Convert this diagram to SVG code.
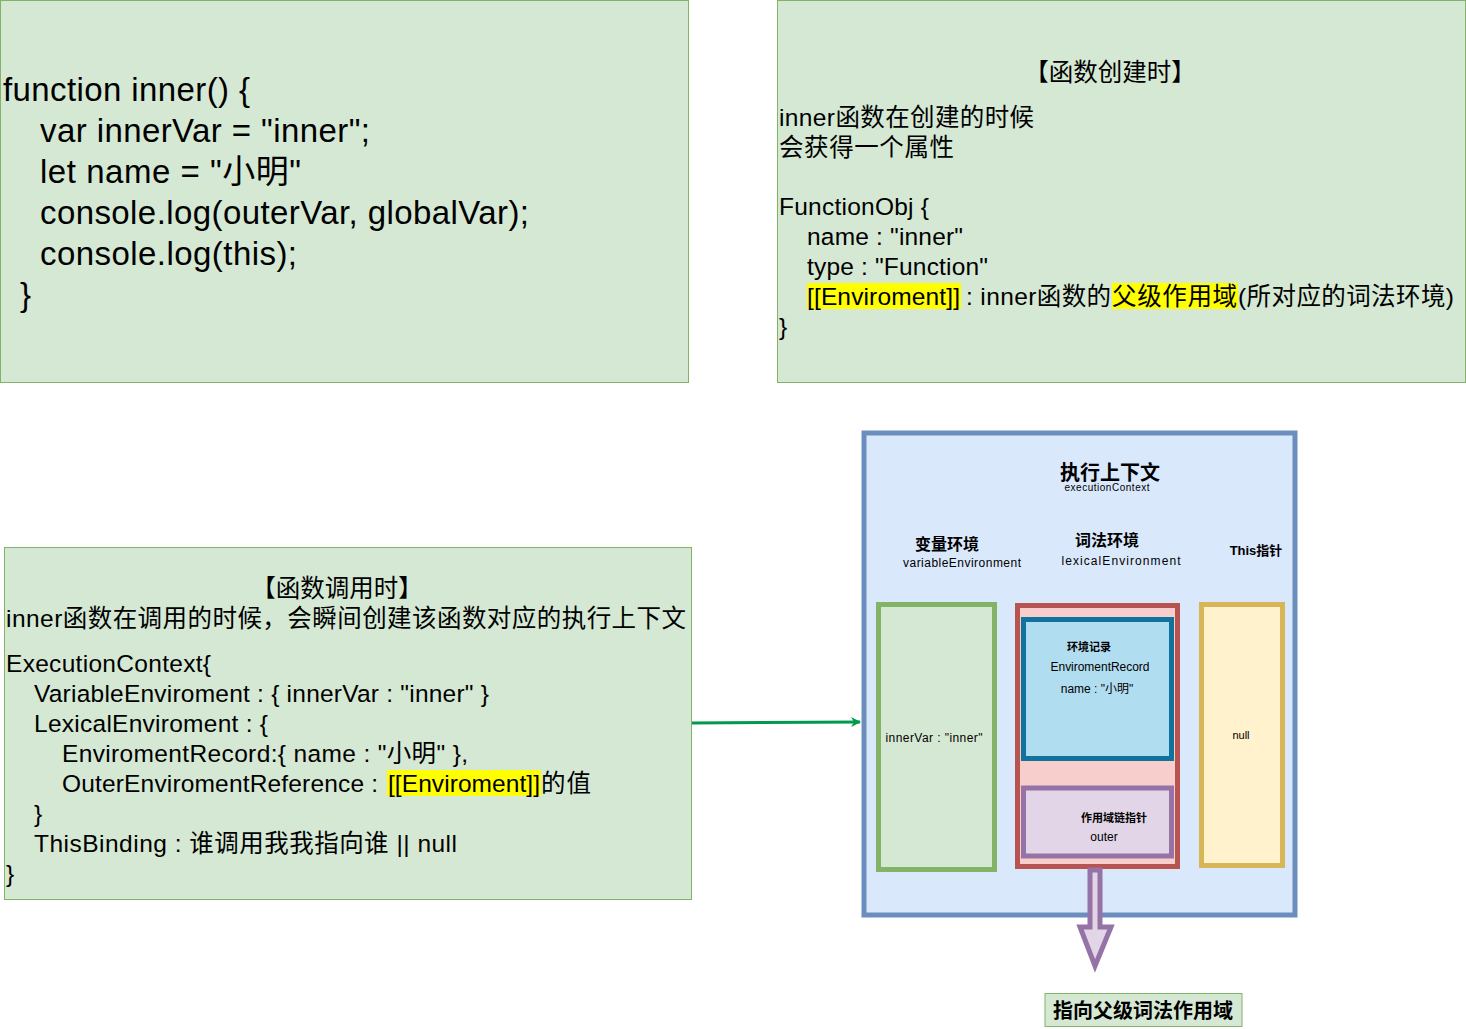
<svg xmlns="http://www.w3.org/2000/svg" width="1466" height="1029" viewBox="0 0 1466 1029">
<style>
text{font-family:"Liberation Sans","Noto Sans CJK SC",sans-serif;fill:#000}
.note{fill:#d5e8d4;stroke:#82b366;stroke-width:1}
.b{font-weight:bold}
.hl{fill:#ffff00}
</style>
<defs>
<marker id="ga" markerWidth="10" markerHeight="10" refX="9" refY="5" orient="auto" markerUnits="userSpaceOnUse" viewBox="0 0 10 10"><path d="M0,0 L10,5 L0,10 L3,5 Z" fill="#00994d"/></marker>
</defs>
<rect width="1466" height="1029" fill="#fff"/>
<g id="code">
<rect class="note" x="0.5" y="0.5" width="688" height="382"/>
<g font-size="33">
<text x="3" y="101" textLength="247">function inner() {</text>
<text x="40" y="142" textLength="330">var innerVar = "inner";</text>
<text x="40" y="183" textLength="261">let name = "小明"</text>
<text x="40" y="224" textLength="489">console.log(outerVar, globalVar);</text>
<text x="40" y="265" textLength="257">console.log(this);</text>
<text x="20" y="306">}</text>
</g>
</g>
<g id="create">
<rect class="note" x="777.5" y="0.5" width="688" height="382"/>
<g font-size="24.5">
<text x="1110" y="81" text-anchor="middle">【函数创建时】</text>
<text x="779" y="126" textLength="255">inner函数在创建的时候</text>
<text x="779" y="156" textLength="175">会获得一个属性</text>
<text x="779" y="215" textLength="150">FunctionObj {</text>
<text x="807" y="245" textLength="156">name : "inner"</text>
<text x="807" y="275" textLength="181">type : "Function"</text>
<rect class="hl" x="807" y="283" width="154" height="26"/>
<rect class="hl" x="1112" y="283" width="126" height="26"/>
<text y="305"><tspan x="807" textLength="153">[[Enviroment]]</tspan><tspan x="966" textLength="145">: inner函数的</tspan><tspan x="1112" textLength="125">父级作用域</tspan><tspan x="1238" textLength="216">(所对应的词法环境)</tspan></text>
<text x="779" y="335">}</text>
</g>
</g>
<g id="call">
<rect class="note" x="4.5" y="547.5" width="687" height="352"/>
<g font-size="24.5">
<text x="337" y="597" text-anchor="middle">【函数调用时】</text>
<text x="6" y="627" textLength="680">inner函数在调用的时候，会瞬间创建该函数对应的执行上下文</text>
<text x="6" y="672" textLength="205">ExecutionContext{</text>
<text x="34" y="702" textLength="455">VariableEnviroment : { innerVar : "inner" }</text>
<text x="34" y="732" textLength="234">LexicalEnviroment : {</text>
<text x="62" y="762" textLength="406">EnviromentRecord:{ name : "小明" },</text>
<rect class="hl" x="387" y="770" width="154" height="26"/>
<text y="792"><tspan x="62" textLength="316">OuterEnviromentReference :</tspan><tspan x="388" textLength="152">[[Enviroment]]</tspan><tspan x="541" textLength="50">的值</tspan></text>
<text x="34" y="822">}</text>
<text x="34" y="852" textLength="423">ThisBinding : 谁调用我我指向谁 ||  null</text>
<text x="6" y="882">}</text>
</g>
</g>
<g id="ec">
<rect x="864" y="433" width="431" height="482" fill="#dae8fc" stroke="#6c8ebf" stroke-width="5"/>
<text x="1110" y="480" text-anchor="middle" font-size="20" class="b">执行上下文</text>
<text x="1107" y="491" text-anchor="middle" font-size="10" textLength="85">executionContext</text>
<text x="947" y="550" text-anchor="middle" font-size="16" class="b">变量环境</text>
<text x="962" y="567" text-anchor="middle" font-size="12" textLength="118">variableEnvironment</text>
<text x="1107" y="546" text-anchor="middle" font-size="16" class="b">词法环境</text>
<text x="1121" y="565" text-anchor="middle" font-size="12" textLength="119">lexicalEnvironment</text>
<text x="1256" y="555" text-anchor="middle" font-size="13" class="b">This指针</text>
</g>
<g id="varenv">
<rect x="878.5" y="604.5" width="116" height="265" fill="#d5e8d4" stroke="#82b366" stroke-width="5"/>
<text x="934" y="742" text-anchor="middle" font-size="12" textLength="97">innerVar : "inner"</text>
</g>
<g id="lexenv">
<rect x="1017.5" y="605.5" width="160" height="261" fill="#f8cecc" stroke="#b85450" stroke-width="5"/>
</g>
<g id="record">
<rect x="1023.5" y="619.5" width="148" height="139" fill="#b1ddf0" stroke="#10739e" stroke-width="5"/>
<text x="1089" y="651" text-anchor="middle" font-size="11" class="b">环境记录</text>
<text x="1100" y="671" text-anchor="middle" font-size="12" textLength="99">EnviromentRecord</text>
<text x="1097" y="693" text-anchor="middle" font-size="12">name : "小明"</text>
</g>
<g id="outer">
<rect x="1023.5" y="788" width="148" height="68" fill="#e1d5e7" stroke="#9673a6" stroke-width="5"/>
<text x="1114" y="822" text-anchor="middle" font-size="11" class="b">作用域链指针</text>
<text x="1104" y="841" text-anchor="middle" font-size="12">outer</text>
</g>
<g id="this">
<rect x="1201.5" y="604.5" width="81" height="261" fill="#fff2cc" stroke="#d6b656" stroke-width="5"/>
<text x="1241" y="739" text-anchor="middle" font-size="11">null</text>
</g>
<g id="target">
<rect x="1045" y="993.5" width="197" height="33" fill="#d5e8d4" stroke="#82b366" stroke-width="1"/>
<text x="1143" y="1018" text-anchor="middle" font-size="20" class="b">指向父级词法作用域</text>
</g>
<g id="connectors">
<line x1="692" y1="723" x2="860" y2="722" stroke="#00994d" stroke-width="3" marker-end="url(#ga)"/>
<path d="M1090,870 L1100,870 L1100,927 L1111,927 L1095,966 L1080,927 L1090,927 Z" fill="#e1d5e7" stroke="#9673a6" stroke-width="5" stroke-linejoin="miter"/>
</g>
</svg>
